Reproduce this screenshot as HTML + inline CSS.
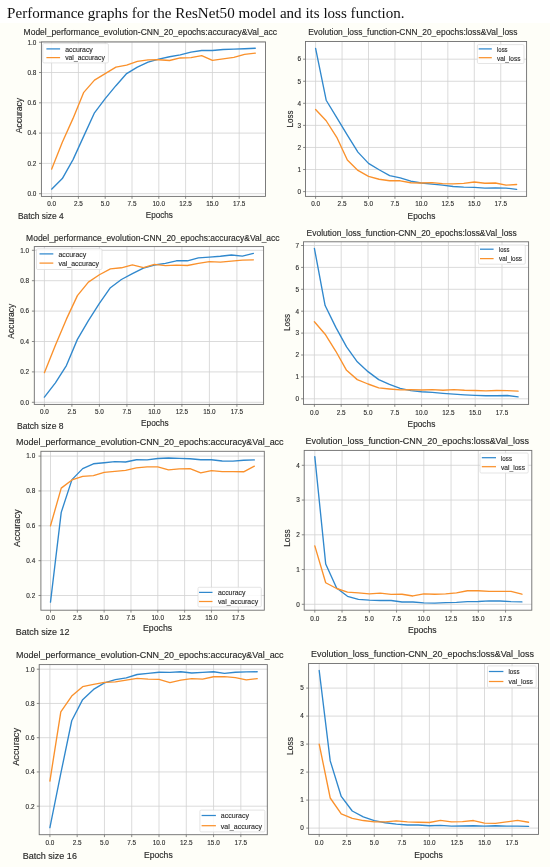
<!DOCTYPE html>
<html><head><meta charset="utf-8"><title>ResNet50 performance graphs</title>
<style>html,body{margin:0;padding:0;background:#fff;width:550px;height:867px;overflow:hidden}svg{display:block;filter:blur(0.3px)}</style>
</head><body>
<svg width="550" height="867" viewBox="0 0 550 867" font-family='"Liberation Sans", sans-serif'>
<style>.t{stroke:#2a2a2a;stroke-width:0.12px}.t2{stroke:#2a2a2a;stroke-width:0.15px}</style>
<rect x="0" y="0" width="550" height="867" fill="#ffffff"/>
<rect x="0" y="23" width="550" height="844" fill="#fefef8"/>
<text x="7.1" y="17.8" font-family='"Liberation Serif", serif' font-size="14.6" fill="#111" textLength="397.5" lengthAdjust="spacingAndGlyphs">Performance graphs for the ResNet50 model and its loss function.</text>
<rect x="41.4" y="41.9" width="224.1" height="154.5" fill="#ffffff"/>
<line x1="51.6" y1="41.9" x2="51.6" y2="196.4" stroke="#d2d2d2" stroke-width="0.8"/>
<line x1="78.4" y1="41.9" x2="78.4" y2="196.4" stroke="#d2d2d2" stroke-width="0.8"/>
<line x1="105.2" y1="41.9" x2="105.2" y2="196.4" stroke="#d2d2d2" stroke-width="0.8"/>
<line x1="132" y1="41.9" x2="132" y2="196.4" stroke="#d2d2d2" stroke-width="0.8"/>
<line x1="158.8" y1="41.9" x2="158.8" y2="196.4" stroke="#d2d2d2" stroke-width="0.8"/>
<line x1="185.6" y1="41.9" x2="185.6" y2="196.4" stroke="#d2d2d2" stroke-width="0.8"/>
<line x1="212.4" y1="41.9" x2="212.4" y2="196.4" stroke="#d2d2d2" stroke-width="0.8"/>
<line x1="239.2" y1="41.9" x2="239.2" y2="196.4" stroke="#d2d2d2" stroke-width="0.8"/>
<line x1="41.4" y1="193.7" x2="265.5" y2="193.7" stroke="#d2d2d2" stroke-width="0.8"/>
<line x1="41.4" y1="163.4" x2="265.5" y2="163.4" stroke="#d2d2d2" stroke-width="0.8"/>
<line x1="41.4" y1="133.1" x2="265.5" y2="133.1" stroke="#d2d2d2" stroke-width="0.8"/>
<line x1="41.4" y1="102.8" x2="265.5" y2="102.8" stroke="#d2d2d2" stroke-width="0.8"/>
<line x1="41.4" y1="72.5" x2="265.5" y2="72.5" stroke="#d2d2d2" stroke-width="0.8"/>
<line x1="41.4" y1="42.2" x2="265.5" y2="42.2" stroke="#d2d2d2" stroke-width="0.8"/>
<polyline points="51.6,189.15 62.32,178.55 73.04,159.61 83.76,136.13 94.48,112.8 105.2,98.56 115.92,85.68 126.64,73.56 137.36,67.2 148.08,62.2 158.8,59.17 169.52,56.74 180.24,54.93 190.96,52.2 201.68,50.53 212.4,50.53 223.12,49.47 233.84,49.17 244.56,48.71 255.28,48.26" fill="none" stroke="#3088cd" stroke-width="1.35" stroke-linejoin="round" stroke-linecap="round"/>
<polyline points="51.6,169.16 62.32,142.34 73.04,118.4 83.76,92.35 94.48,80.08 105.2,73.56 115.92,67.2 126.64,65.08 137.36,61.44 148.08,59.93 158.8,59.77 169.52,60.53 180.24,57.96 190.96,57.65 201.68,55.68 212.4,60.38 223.12,58.87 233.84,57.35 244.56,54.32 255.28,53.11" fill="none" stroke="#fa912c" stroke-width="1.35" stroke-linejoin="round" stroke-linecap="round"/>
<rect x="41.4" y="41.9" width="224.1" height="154.5" fill="none" stroke="#6e6e6e" stroke-width="0.9"/>
<line x1="51.6" y1="196.4" x2="51.6" y2="198.8" stroke="#6e6e6e" stroke-width="0.8"/>
<text x="51.6" y="205.7" class="t" font-size="6.4" fill="#2a2a2a" text-anchor="middle">0.0</text>
<line x1="78.4" y1="196.4" x2="78.4" y2="198.8" stroke="#6e6e6e" stroke-width="0.8"/>
<text x="78.4" y="205.7" class="t" font-size="6.4" fill="#2a2a2a" text-anchor="middle">2.5</text>
<line x1="105.2" y1="196.4" x2="105.2" y2="198.8" stroke="#6e6e6e" stroke-width="0.8"/>
<text x="105.2" y="205.7" class="t" font-size="6.4" fill="#2a2a2a" text-anchor="middle">5.0</text>
<line x1="132" y1="196.4" x2="132" y2="198.8" stroke="#6e6e6e" stroke-width="0.8"/>
<text x="132" y="205.7" class="t" font-size="6.4" fill="#2a2a2a" text-anchor="middle">7.5</text>
<line x1="158.8" y1="196.4" x2="158.8" y2="198.8" stroke="#6e6e6e" stroke-width="0.8"/>
<text x="158.8" y="205.7" class="t" font-size="6.4" fill="#2a2a2a" text-anchor="middle">10.0</text>
<line x1="185.6" y1="196.4" x2="185.6" y2="198.8" stroke="#6e6e6e" stroke-width="0.8"/>
<text x="185.6" y="205.7" class="t" font-size="6.4" fill="#2a2a2a" text-anchor="middle">12.5</text>
<line x1="212.4" y1="196.4" x2="212.4" y2="198.8" stroke="#6e6e6e" stroke-width="0.8"/>
<text x="212.4" y="205.7" class="t" font-size="6.4" fill="#2a2a2a" text-anchor="middle">15.0</text>
<line x1="239.2" y1="196.4" x2="239.2" y2="198.8" stroke="#6e6e6e" stroke-width="0.8"/>
<text x="239.2" y="205.7" class="t" font-size="6.4" fill="#2a2a2a" text-anchor="middle">17.5</text>
<line x1="39" y1="193.7" x2="41.4" y2="193.7" stroke="#6e6e6e" stroke-width="0.8"/>
<text x="36.3" y="196" class="t" font-size="6.4" fill="#2a2a2a" text-anchor="end">0.0</text>
<line x1="39" y1="163.4" x2="41.4" y2="163.4" stroke="#6e6e6e" stroke-width="0.8"/>
<text x="36.3" y="165.7" class="t" font-size="6.4" fill="#2a2a2a" text-anchor="end">0.2</text>
<line x1="39" y1="133.1" x2="41.4" y2="133.1" stroke="#6e6e6e" stroke-width="0.8"/>
<text x="36.3" y="135.4" class="t" font-size="6.4" fill="#2a2a2a" text-anchor="end">0.4</text>
<line x1="39" y1="102.8" x2="41.4" y2="102.8" stroke="#6e6e6e" stroke-width="0.8"/>
<text x="36.3" y="105.1" class="t" font-size="6.4" fill="#2a2a2a" text-anchor="end">0.6</text>
<line x1="39" y1="72.5" x2="41.4" y2="72.5" stroke="#6e6e6e" stroke-width="0.8"/>
<text x="36.3" y="74.8" class="t" font-size="6.4" fill="#2a2a2a" text-anchor="end">0.8</text>
<line x1="39" y1="42.2" x2="41.4" y2="42.2" stroke="#6e6e6e" stroke-width="0.8"/>
<text x="36.3" y="44.5" class="t" font-size="6.4" fill="#2a2a2a" text-anchor="end">1.0</text>
<rect x="42.8" y="43.6" width="65.6" height="19.3" rx="1.2" fill="#ffffff" fill-opacity="0.85" stroke="#dadada" stroke-width="0.7"/>
<line x1="46.4" y1="48.9" x2="60.1" y2="48.9" stroke="#3088cd" stroke-width="1.25"/>
<text x="65.2" y="51.7" class="t" font-size="6.8" fill="#2a2a2a" textLength="27.6" lengthAdjust="spacingAndGlyphs">accuracy</text>
<line x1="46.4" y1="57.6" x2="60.1" y2="57.6" stroke="#fa912c" stroke-width="1.25"/>
<text x="65.2" y="60.4" class="t" font-size="6.8" fill="#2a2a2a" textLength="39.7" lengthAdjust="spacingAndGlyphs">val_accuracy</text>
<text x="23.6" y="34.9" class="t2" font-size="9.3" fill="#2a2a2a" textLength="253.3" lengthAdjust="spacingAndGlyphs">Model_performance_evolution-CNN_20_epochs:accuracy&amp;Val_acc</text>
<text x="145.8" y="217.7" class="t2" font-size="8.6" fill="#2a2a2a" textLength="27.1" lengthAdjust="spacingAndGlyphs">Epochs</text>
<text transform="translate(21.7,115.5) rotate(-90)" x="0" y="0" class="t2" font-size="8.6" fill="#2a2a2a" text-anchor="middle" textLength="35.3" lengthAdjust="spacingAndGlyphs">Accuracy</text>
<rect x="305.5" y="41.5" width="221.1" height="154.9" fill="#ffffff"/>
<line x1="315.6" y1="41.5" x2="315.6" y2="196.4" stroke="#d2d2d2" stroke-width="0.8"/>
<line x1="342.05" y1="41.5" x2="342.05" y2="196.4" stroke="#d2d2d2" stroke-width="0.8"/>
<line x1="368.5" y1="41.5" x2="368.5" y2="196.4" stroke="#d2d2d2" stroke-width="0.8"/>
<line x1="394.95" y1="41.5" x2="394.95" y2="196.4" stroke="#d2d2d2" stroke-width="0.8"/>
<line x1="421.4" y1="41.5" x2="421.4" y2="196.4" stroke="#d2d2d2" stroke-width="0.8"/>
<line x1="447.85" y1="41.5" x2="447.85" y2="196.4" stroke="#d2d2d2" stroke-width="0.8"/>
<line x1="474.3" y1="41.5" x2="474.3" y2="196.4" stroke="#d2d2d2" stroke-width="0.8"/>
<line x1="500.75" y1="41.5" x2="500.75" y2="196.4" stroke="#d2d2d2" stroke-width="0.8"/>
<line x1="305.5" y1="191.6" x2="526.6" y2="191.6" stroke="#d2d2d2" stroke-width="0.8"/>
<line x1="305.5" y1="169.53" x2="526.6" y2="169.53" stroke="#d2d2d2" stroke-width="0.8"/>
<line x1="305.5" y1="147.46" x2="526.6" y2="147.46" stroke="#d2d2d2" stroke-width="0.8"/>
<line x1="305.5" y1="125.39" x2="526.6" y2="125.39" stroke="#d2d2d2" stroke-width="0.8"/>
<line x1="305.5" y1="103.32" x2="526.6" y2="103.32" stroke="#d2d2d2" stroke-width="0.8"/>
<line x1="305.5" y1="81.25" x2="526.6" y2="81.25" stroke="#d2d2d2" stroke-width="0.8"/>
<line x1="305.5" y1="59.18" x2="526.6" y2="59.18" stroke="#d2d2d2" stroke-width="0.8"/>
<polyline points="315.6,48.37 326.18,100.23 336.76,117.67 347.34,135.1 357.92,152.09 368.5,163.35 379.08,169.75 389.66,175.71 400.24,177.92 410.82,181.23 421.4,182.99 431.98,184.1 442.56,185.2 453.14,186.52 463.72,187.19 474.3,187.41 484.88,188.07 495.46,187.85 506.04,188.07 516.62,189.39" fill="none" stroke="#3088cd" stroke-width="1.35" stroke-linejoin="round" stroke-linecap="round"/>
<polyline points="315.6,109.5 326.18,120.76 336.76,137.31 347.34,160.04 357.92,170.41 368.5,176.37 379.08,179.24 389.66,180.79 400.24,180.79 410.82,182.77 421.4,182.99 431.98,182.55 442.56,183.65 453.14,183.88 463.72,183.43 474.3,182 484.88,183.21 495.46,182.99 506.04,185.2 516.62,184.54" fill="none" stroke="#fa912c" stroke-width="1.35" stroke-linejoin="round" stroke-linecap="round"/>
<rect x="305.5" y="41.5" width="221.1" height="154.9" fill="none" stroke="#6e6e6e" stroke-width="0.9"/>
<line x1="315.6" y1="196.4" x2="315.6" y2="198.8" stroke="#6e6e6e" stroke-width="0.8"/>
<text x="315.6" y="206.1" class="t" font-size="6.4" fill="#2a2a2a" text-anchor="middle">0.0</text>
<line x1="342.05" y1="196.4" x2="342.05" y2="198.8" stroke="#6e6e6e" stroke-width="0.8"/>
<text x="342.05" y="206.1" class="t" font-size="6.4" fill="#2a2a2a" text-anchor="middle">2.5</text>
<line x1="368.5" y1="196.4" x2="368.5" y2="198.8" stroke="#6e6e6e" stroke-width="0.8"/>
<text x="368.5" y="206.1" class="t" font-size="6.4" fill="#2a2a2a" text-anchor="middle">5.0</text>
<line x1="394.95" y1="196.4" x2="394.95" y2="198.8" stroke="#6e6e6e" stroke-width="0.8"/>
<text x="394.95" y="206.1" class="t" font-size="6.4" fill="#2a2a2a" text-anchor="middle">7.5</text>
<line x1="421.4" y1="196.4" x2="421.4" y2="198.8" stroke="#6e6e6e" stroke-width="0.8"/>
<text x="421.4" y="206.1" class="t" font-size="6.4" fill="#2a2a2a" text-anchor="middle">10.0</text>
<line x1="447.85" y1="196.4" x2="447.85" y2="198.8" stroke="#6e6e6e" stroke-width="0.8"/>
<text x="447.85" y="206.1" class="t" font-size="6.4" fill="#2a2a2a" text-anchor="middle">12.5</text>
<line x1="474.3" y1="196.4" x2="474.3" y2="198.8" stroke="#6e6e6e" stroke-width="0.8"/>
<text x="474.3" y="206.1" class="t" font-size="6.4" fill="#2a2a2a" text-anchor="middle">15.0</text>
<line x1="500.75" y1="196.4" x2="500.75" y2="198.8" stroke="#6e6e6e" stroke-width="0.8"/>
<text x="500.75" y="206.1" class="t" font-size="6.4" fill="#2a2a2a" text-anchor="middle">17.5</text>
<line x1="303.1" y1="191.6" x2="305.5" y2="191.6" stroke="#6e6e6e" stroke-width="0.8"/>
<text x="301.1" y="193.9" class="t" font-size="6.4" fill="#2a2a2a" text-anchor="end">0</text>
<line x1="303.1" y1="169.53" x2="305.5" y2="169.53" stroke="#6e6e6e" stroke-width="0.8"/>
<text x="301.1" y="171.83" class="t" font-size="6.4" fill="#2a2a2a" text-anchor="end">1</text>
<line x1="303.1" y1="147.46" x2="305.5" y2="147.46" stroke="#6e6e6e" stroke-width="0.8"/>
<text x="301.1" y="149.76" class="t" font-size="6.4" fill="#2a2a2a" text-anchor="end">2</text>
<line x1="303.1" y1="125.39" x2="305.5" y2="125.39" stroke="#6e6e6e" stroke-width="0.8"/>
<text x="301.1" y="127.69" class="t" font-size="6.4" fill="#2a2a2a" text-anchor="end">3</text>
<line x1="303.1" y1="103.32" x2="305.5" y2="103.32" stroke="#6e6e6e" stroke-width="0.8"/>
<text x="301.1" y="105.62" class="t" font-size="6.4" fill="#2a2a2a" text-anchor="end">4</text>
<line x1="303.1" y1="81.25" x2="305.5" y2="81.25" stroke="#6e6e6e" stroke-width="0.8"/>
<text x="301.1" y="83.55" class="t" font-size="6.4" fill="#2a2a2a" text-anchor="end">5</text>
<line x1="303.1" y1="59.18" x2="305.5" y2="59.18" stroke="#6e6e6e" stroke-width="0.8"/>
<text x="301.1" y="61.48" class="t" font-size="6.4" fill="#2a2a2a" text-anchor="end">6</text>
<rect x="477.4" y="44.6" width="46.6" height="18.9" rx="1.2" fill="#ffffff" fill-opacity="0.85" stroke="#dadada" stroke-width="0.7"/>
<line x1="478.7" y1="48.9" x2="491.8" y2="48.9" stroke="#3088cd" stroke-width="1.25"/>
<text x="497" y="51.7" class="t" font-size="6.8" fill="#2a2a2a" textLength="10.6" lengthAdjust="spacingAndGlyphs">loss</text>
<line x1="478.7" y1="57.7" x2="491.8" y2="57.7" stroke="#fa912c" stroke-width="1.25"/>
<text x="497" y="60.5" class="t" font-size="6.8" fill="#2a2a2a" textLength="23.4" lengthAdjust="spacingAndGlyphs">val_loss</text>
<text x="308.2" y="35.3" class="t2" font-size="9.3" fill="#2a2a2a" textLength="209.3" lengthAdjust="spacingAndGlyphs">Evolution_loss_function-CNN_20_epochs:loss&amp;Val_loss</text>
<text x="407.6" y="218.7" class="t2" font-size="8.6" fill="#2a2a2a" textLength="27.7" lengthAdjust="spacingAndGlyphs">Epochs</text>
<text transform="translate(292.5,119) rotate(-90)" x="0" y="0" class="t2" font-size="8.6" fill="#2a2a2a" text-anchor="middle" textLength="16.9" lengthAdjust="spacingAndGlyphs">Loss</text>
<rect x="34.3" y="246.6" width="229.3" height="157.8" fill="#ffffff"/>
<line x1="44.4" y1="246.6" x2="44.4" y2="404.4" stroke="#d2d2d2" stroke-width="0.8"/>
<line x1="71.9" y1="246.6" x2="71.9" y2="404.4" stroke="#d2d2d2" stroke-width="0.8"/>
<line x1="99.4" y1="246.6" x2="99.4" y2="404.4" stroke="#d2d2d2" stroke-width="0.8"/>
<line x1="126.9" y1="246.6" x2="126.9" y2="404.4" stroke="#d2d2d2" stroke-width="0.8"/>
<line x1="154.4" y1="246.6" x2="154.4" y2="404.4" stroke="#d2d2d2" stroke-width="0.8"/>
<line x1="181.9" y1="246.6" x2="181.9" y2="404.4" stroke="#d2d2d2" stroke-width="0.8"/>
<line x1="209.4" y1="246.6" x2="209.4" y2="404.4" stroke="#d2d2d2" stroke-width="0.8"/>
<line x1="236.9" y1="246.6" x2="236.9" y2="404.4" stroke="#d2d2d2" stroke-width="0.8"/>
<line x1="34.3" y1="402.3" x2="263.6" y2="402.3" stroke="#d2d2d2" stroke-width="0.8"/>
<line x1="34.3" y1="371.9" x2="263.6" y2="371.9" stroke="#d2d2d2" stroke-width="0.8"/>
<line x1="34.3" y1="341.5" x2="263.6" y2="341.5" stroke="#d2d2d2" stroke-width="0.8"/>
<line x1="34.3" y1="311.1" x2="263.6" y2="311.1" stroke="#d2d2d2" stroke-width="0.8"/>
<line x1="34.3" y1="280.7" x2="263.6" y2="280.7" stroke="#d2d2d2" stroke-width="0.8"/>
<line x1="34.3" y1="250.3" x2="263.6" y2="250.3" stroke="#d2d2d2" stroke-width="0.8"/>
<polyline points="44.4,397.13 55.4,382.84 66.4,365.52 77.4,339.37 88.4,320.68 99.4,303.35 110.4,287.69 121.4,279.48 132.4,273.71 143.4,268.08 154.4,265.04 165.4,263.37 176.4,260.79 187.4,260.79 198.4,257.9 209.4,257.14 220.4,256.23 231.4,255.01 242.4,256.08 253.4,253.34" fill="none" stroke="#3088cd" stroke-width="1.35" stroke-linejoin="round" stroke-linecap="round"/>
<polyline points="44.4,372.66 55.4,345.15 66.4,319.16 77.4,295.6 88.4,282.07 99.4,274.77 110.4,268.84 121.4,267.78 132.4,264.89 143.4,267.63 154.4,264.44 165.4,265.65 176.4,265.2 187.4,265.5 198.4,263.37 209.4,261.55 220.4,262.16 231.4,261.09 242.4,260.18 253.4,259.88" fill="none" stroke="#fa912c" stroke-width="1.35" stroke-linejoin="round" stroke-linecap="round"/>
<rect x="34.3" y="246.6" width="229.3" height="157.8" fill="none" stroke="#6e6e6e" stroke-width="0.9"/>
<line x1="44.4" y1="404.4" x2="44.4" y2="406.8" stroke="#6e6e6e" stroke-width="0.8"/>
<text x="44.4" y="413.9" class="t" font-size="6.4" fill="#2a2a2a" text-anchor="middle">0.0</text>
<line x1="71.9" y1="404.4" x2="71.9" y2="406.8" stroke="#6e6e6e" stroke-width="0.8"/>
<text x="71.9" y="413.9" class="t" font-size="6.4" fill="#2a2a2a" text-anchor="middle">2.5</text>
<line x1="99.4" y1="404.4" x2="99.4" y2="406.8" stroke="#6e6e6e" stroke-width="0.8"/>
<text x="99.4" y="413.9" class="t" font-size="6.4" fill="#2a2a2a" text-anchor="middle">5.0</text>
<line x1="126.9" y1="404.4" x2="126.9" y2="406.8" stroke="#6e6e6e" stroke-width="0.8"/>
<text x="126.9" y="413.9" class="t" font-size="6.4" fill="#2a2a2a" text-anchor="middle">7.5</text>
<line x1="154.4" y1="404.4" x2="154.4" y2="406.8" stroke="#6e6e6e" stroke-width="0.8"/>
<text x="154.4" y="413.9" class="t" font-size="6.4" fill="#2a2a2a" text-anchor="middle">10.0</text>
<line x1="181.9" y1="404.4" x2="181.9" y2="406.8" stroke="#6e6e6e" stroke-width="0.8"/>
<text x="181.9" y="413.9" class="t" font-size="6.4" fill="#2a2a2a" text-anchor="middle">12.5</text>
<line x1="209.4" y1="404.4" x2="209.4" y2="406.8" stroke="#6e6e6e" stroke-width="0.8"/>
<text x="209.4" y="413.9" class="t" font-size="6.4" fill="#2a2a2a" text-anchor="middle">15.0</text>
<line x1="236.9" y1="404.4" x2="236.9" y2="406.8" stroke="#6e6e6e" stroke-width="0.8"/>
<text x="236.9" y="413.9" class="t" font-size="6.4" fill="#2a2a2a" text-anchor="middle">17.5</text>
<line x1="31.9" y1="402.3" x2="34.3" y2="402.3" stroke="#6e6e6e" stroke-width="0.8"/>
<text x="29.1" y="404.6" class="t" font-size="6.4" fill="#2a2a2a" text-anchor="end">0.0</text>
<line x1="31.9" y1="371.9" x2="34.3" y2="371.9" stroke="#6e6e6e" stroke-width="0.8"/>
<text x="29.1" y="374.2" class="t" font-size="6.4" fill="#2a2a2a" text-anchor="end">0.2</text>
<line x1="31.9" y1="341.5" x2="34.3" y2="341.5" stroke="#6e6e6e" stroke-width="0.8"/>
<text x="29.1" y="343.8" class="t" font-size="6.4" fill="#2a2a2a" text-anchor="end">0.4</text>
<line x1="31.9" y1="311.1" x2="34.3" y2="311.1" stroke="#6e6e6e" stroke-width="0.8"/>
<text x="29.1" y="313.4" class="t" font-size="6.4" fill="#2a2a2a" text-anchor="end">0.6</text>
<line x1="31.9" y1="280.7" x2="34.3" y2="280.7" stroke="#6e6e6e" stroke-width="0.8"/>
<text x="29.1" y="283" class="t" font-size="6.4" fill="#2a2a2a" text-anchor="end">0.8</text>
<line x1="31.9" y1="250.3" x2="34.3" y2="250.3" stroke="#6e6e6e" stroke-width="0.8"/>
<text x="29.1" y="252.6" class="t" font-size="6.4" fill="#2a2a2a" text-anchor="end">1.0</text>
<rect x="36.5" y="248.8" width="65.5" height="20.7" rx="1.2" fill="#ffffff" fill-opacity="0.85" stroke="#dadada" stroke-width="0.7"/>
<line x1="39.5" y1="253.9" x2="53.3" y2="253.9" stroke="#3088cd" stroke-width="1.25"/>
<text x="58.4" y="256.7" class="t" font-size="6.8" fill="#2a2a2a" textLength="27.9" lengthAdjust="spacingAndGlyphs">accuracy</text>
<line x1="39.5" y1="263.1" x2="53.3" y2="263.1" stroke="#fa912c" stroke-width="1.25"/>
<text x="58.4" y="265.9" class="t" font-size="6.8" fill="#2a2a2a" textLength="40.7" lengthAdjust="spacingAndGlyphs">val_accuracy</text>
<text x="26.1" y="240.6" class="t2" font-size="9.3" fill="#2a2a2a" textLength="253.5" lengthAdjust="spacingAndGlyphs">Model_performance_evolution-CNN_20_epochs:accuracy&amp;Val_acc</text>
<text x="141.1" y="426.1" class="t2" font-size="8.6" fill="#2a2a2a" textLength="27.6" lengthAdjust="spacingAndGlyphs">Epochs</text>
<text transform="translate(13.8,321.3) rotate(-90)" x="0" y="0" class="t2" font-size="8.6" fill="#2a2a2a" text-anchor="middle" textLength="34.9" lengthAdjust="spacingAndGlyphs">Accuracy</text>
<rect x="303.5" y="241.8" width="225.1" height="162.6" fill="#ffffff"/>
<line x1="314.4" y1="241.8" x2="314.4" y2="404.4" stroke="#d2d2d2" stroke-width="0.8"/>
<line x1="341.2" y1="241.8" x2="341.2" y2="404.4" stroke="#d2d2d2" stroke-width="0.8"/>
<line x1="368" y1="241.8" x2="368" y2="404.4" stroke="#d2d2d2" stroke-width="0.8"/>
<line x1="394.8" y1="241.8" x2="394.8" y2="404.4" stroke="#d2d2d2" stroke-width="0.8"/>
<line x1="421.6" y1="241.8" x2="421.6" y2="404.4" stroke="#d2d2d2" stroke-width="0.8"/>
<line x1="448.4" y1="241.8" x2="448.4" y2="404.4" stroke="#d2d2d2" stroke-width="0.8"/>
<line x1="475.2" y1="241.8" x2="475.2" y2="404.4" stroke="#d2d2d2" stroke-width="0.8"/>
<line x1="502" y1="241.8" x2="502" y2="404.4" stroke="#d2d2d2" stroke-width="0.8"/>
<line x1="303.5" y1="398.8" x2="528.6" y2="398.8" stroke="#d2d2d2" stroke-width="0.8"/>
<line x1="303.5" y1="376.9" x2="528.6" y2="376.9" stroke="#d2d2d2" stroke-width="0.8"/>
<line x1="303.5" y1="355" x2="528.6" y2="355" stroke="#d2d2d2" stroke-width="0.8"/>
<line x1="303.5" y1="333.1" x2="528.6" y2="333.1" stroke="#d2d2d2" stroke-width="0.8"/>
<line x1="303.5" y1="311.2" x2="528.6" y2="311.2" stroke="#d2d2d2" stroke-width="0.8"/>
<line x1="303.5" y1="289.3" x2="528.6" y2="289.3" stroke="#d2d2d2" stroke-width="0.8"/>
<line x1="303.5" y1="267.4" x2="528.6" y2="267.4" stroke="#d2d2d2" stroke-width="0.8"/>
<line x1="303.5" y1="245.5" x2="528.6" y2="245.5" stroke="#d2d2d2" stroke-width="0.8"/>
<polyline points="314.4,248.35 325.12,305.51 335.84,327.41 346.56,346.9 357.28,361.79 368,371.64 378.72,379.62 389.44,384.41 400.16,388.4 410.88,390.7 421.6,391.79 432.32,392.45 443.04,393.32 453.76,394.2 464.48,394.86 475.2,395.3 485.92,395.73 496.64,395.73 507.36,395.51 518.08,396.83" fill="none" stroke="#3088cd" stroke-width="1.35" stroke-linejoin="round" stroke-linecap="round"/>
<polyline points="314.4,321.71 325.12,334.2 335.84,351.28 346.56,370.33 357.28,379.62 368,384 378.72,387.92 389.44,389.01 400.16,389.91 410.88,389.6 421.6,390.04 432.32,389.6 443.04,390.26 453.76,389.6 464.48,390.26 475.2,390.48 485.92,390.92 496.64,390.48 507.36,390.7 518.08,391.13" fill="none" stroke="#fa912c" stroke-width="1.35" stroke-linejoin="round" stroke-linecap="round"/>
<rect x="303.5" y="241.8" width="225.1" height="162.6" fill="none" stroke="#6e6e6e" stroke-width="0.9"/>
<line x1="314.4" y1="404.4" x2="314.4" y2="406.8" stroke="#6e6e6e" stroke-width="0.8"/>
<text x="314.4" y="414.8" class="t" font-size="6.4" fill="#2a2a2a" text-anchor="middle">0.0</text>
<line x1="341.2" y1="404.4" x2="341.2" y2="406.8" stroke="#6e6e6e" stroke-width="0.8"/>
<text x="341.2" y="414.8" class="t" font-size="6.4" fill="#2a2a2a" text-anchor="middle">2.5</text>
<line x1="368" y1="404.4" x2="368" y2="406.8" stroke="#6e6e6e" stroke-width="0.8"/>
<text x="368" y="414.8" class="t" font-size="6.4" fill="#2a2a2a" text-anchor="middle">5.0</text>
<line x1="394.8" y1="404.4" x2="394.8" y2="406.8" stroke="#6e6e6e" stroke-width="0.8"/>
<text x="394.8" y="414.8" class="t" font-size="6.4" fill="#2a2a2a" text-anchor="middle">7.5</text>
<line x1="421.6" y1="404.4" x2="421.6" y2="406.8" stroke="#6e6e6e" stroke-width="0.8"/>
<text x="421.6" y="414.8" class="t" font-size="6.4" fill="#2a2a2a" text-anchor="middle">10.0</text>
<line x1="448.4" y1="404.4" x2="448.4" y2="406.8" stroke="#6e6e6e" stroke-width="0.8"/>
<text x="448.4" y="414.8" class="t" font-size="6.4" fill="#2a2a2a" text-anchor="middle">12.5</text>
<line x1="475.2" y1="404.4" x2="475.2" y2="406.8" stroke="#6e6e6e" stroke-width="0.8"/>
<text x="475.2" y="414.8" class="t" font-size="6.4" fill="#2a2a2a" text-anchor="middle">15.0</text>
<line x1="502" y1="404.4" x2="502" y2="406.8" stroke="#6e6e6e" stroke-width="0.8"/>
<text x="502" y="414.8" class="t" font-size="6.4" fill="#2a2a2a" text-anchor="middle">17.5</text>
<line x1="301.1" y1="398.8" x2="303.5" y2="398.8" stroke="#6e6e6e" stroke-width="0.8"/>
<text x="299" y="401.1" class="t" font-size="6.4" fill="#2a2a2a" text-anchor="end">0</text>
<line x1="301.1" y1="376.9" x2="303.5" y2="376.9" stroke="#6e6e6e" stroke-width="0.8"/>
<text x="299" y="379.2" class="t" font-size="6.4" fill="#2a2a2a" text-anchor="end">1</text>
<line x1="301.1" y1="355" x2="303.5" y2="355" stroke="#6e6e6e" stroke-width="0.8"/>
<text x="299" y="357.3" class="t" font-size="6.4" fill="#2a2a2a" text-anchor="end">2</text>
<line x1="301.1" y1="333.1" x2="303.5" y2="333.1" stroke="#6e6e6e" stroke-width="0.8"/>
<text x="299" y="335.4" class="t" font-size="6.4" fill="#2a2a2a" text-anchor="end">3</text>
<line x1="301.1" y1="311.2" x2="303.5" y2="311.2" stroke="#6e6e6e" stroke-width="0.8"/>
<text x="299" y="313.5" class="t" font-size="6.4" fill="#2a2a2a" text-anchor="end">4</text>
<line x1="301.1" y1="289.3" x2="303.5" y2="289.3" stroke="#6e6e6e" stroke-width="0.8"/>
<text x="299" y="291.6" class="t" font-size="6.4" fill="#2a2a2a" text-anchor="end">5</text>
<line x1="301.1" y1="267.4" x2="303.5" y2="267.4" stroke="#6e6e6e" stroke-width="0.8"/>
<text x="299" y="269.7" class="t" font-size="6.4" fill="#2a2a2a" text-anchor="end">6</text>
<line x1="301.1" y1="245.5" x2="303.5" y2="245.5" stroke="#6e6e6e" stroke-width="0.8"/>
<text x="299" y="247.8" class="t" font-size="6.4" fill="#2a2a2a" text-anchor="end">7</text>
<rect x="478.5" y="245" width="46.8" height="19.2" rx="1.2" fill="#ffffff" fill-opacity="0.85" stroke="#dadada" stroke-width="0.7"/>
<line x1="480" y1="249.2" x2="493.6" y2="249.2" stroke="#3088cd" stroke-width="1.25"/>
<text x="499" y="252" class="t" font-size="6.8" fill="#2a2a2a" textLength="10.5" lengthAdjust="spacingAndGlyphs">loss</text>
<line x1="480" y1="258.6" x2="493.6" y2="258.6" stroke="#fa912c" stroke-width="1.25"/>
<text x="499" y="261.4" class="t" font-size="6.8" fill="#2a2a2a" textLength="23" lengthAdjust="spacingAndGlyphs">val_loss</text>
<text x="306.6" y="235.6" class="t2" font-size="9.3" fill="#2a2a2a" textLength="210.2" lengthAdjust="spacingAndGlyphs">Evolution_loss_function-CNN_20_epochs:loss&amp;Val_loss</text>
<text x="407.6" y="426.9" class="t2" font-size="8.6" fill="#2a2a2a" textLength="27.7" lengthAdjust="spacingAndGlyphs">Epochs</text>
<text transform="translate(289.7,322.5) rotate(-90)" x="0" y="0" class="t2" font-size="8.6" fill="#2a2a2a" text-anchor="middle" textLength="17.2" lengthAdjust="spacingAndGlyphs">Loss</text>
<rect x="40.9" y="451.3" width="223.4" height="158.9" fill="#ffffff"/>
<line x1="50.5" y1="451.3" x2="50.5" y2="610.2" stroke="#d2d2d2" stroke-width="0.8"/>
<line x1="77.33" y1="451.3" x2="77.33" y2="610.2" stroke="#d2d2d2" stroke-width="0.8"/>
<line x1="104.15" y1="451.3" x2="104.15" y2="610.2" stroke="#d2d2d2" stroke-width="0.8"/>
<line x1="130.98" y1="451.3" x2="130.98" y2="610.2" stroke="#d2d2d2" stroke-width="0.8"/>
<line x1="157.8" y1="451.3" x2="157.8" y2="610.2" stroke="#d2d2d2" stroke-width="0.8"/>
<line x1="184.62" y1="451.3" x2="184.62" y2="610.2" stroke="#d2d2d2" stroke-width="0.8"/>
<line x1="211.45" y1="451.3" x2="211.45" y2="610.2" stroke="#d2d2d2" stroke-width="0.8"/>
<line x1="238.28" y1="451.3" x2="238.28" y2="610.2" stroke="#d2d2d2" stroke-width="0.8"/>
<line x1="40.9" y1="595.5" x2="264.3" y2="595.5" stroke="#d2d2d2" stroke-width="0.8"/>
<line x1="40.9" y1="560.65" x2="264.3" y2="560.65" stroke="#d2d2d2" stroke-width="0.8"/>
<line x1="40.9" y1="525.8" x2="264.3" y2="525.8" stroke="#d2d2d2" stroke-width="0.8"/>
<line x1="40.9" y1="490.95" x2="264.3" y2="490.95" stroke="#d2d2d2" stroke-width="0.8"/>
<line x1="40.9" y1="456.1" x2="264.3" y2="456.1" stroke="#d2d2d2" stroke-width="0.8"/>
<polyline points="50.5,602.12 61.23,512.38 71.96,479.62 82.69,468.65 93.42,463.77 104.15,462.72 114.88,461.68 125.61,462.02 136.34,459.76 147.07,459.93 157.8,458.54 168.53,458.02 179.26,458.37 189.99,458.71 200.72,459.76 211.45,459.76 222.18,460.98 232.91,461.15 243.64,460.28 254.37,459.93" fill="none" stroke="#3088cd" stroke-width="1.35" stroke-linejoin="round" stroke-linecap="round"/>
<polyline points="50.5,525.8 61.23,488.16 71.96,479.97 82.69,476.31 93.42,475.62 104.15,472.31 114.88,471.43 125.61,470.39 136.34,467.95 147.07,466.9 157.8,466.9 168.53,469.87 179.26,468.82 189.99,468.65 200.72,472.83 211.45,470.56 222.18,471.61 232.91,471.61 243.64,471.78 254.37,466.21" fill="none" stroke="#fa912c" stroke-width="1.35" stroke-linejoin="round" stroke-linecap="round"/>
<rect x="40.9" y="451.3" width="223.4" height="158.9" fill="none" stroke="#6e6e6e" stroke-width="0.9"/>
<line x1="50.5" y1="610.2" x2="50.5" y2="612.6" stroke="#6e6e6e" stroke-width="0.8"/>
<text x="50.5" y="619.5" class="t" font-size="6.4" fill="#2a2a2a" text-anchor="middle">0.0</text>
<line x1="77.33" y1="610.2" x2="77.33" y2="612.6" stroke="#6e6e6e" stroke-width="0.8"/>
<text x="77.33" y="619.5" class="t" font-size="6.4" fill="#2a2a2a" text-anchor="middle">2.5</text>
<line x1="104.15" y1="610.2" x2="104.15" y2="612.6" stroke="#6e6e6e" stroke-width="0.8"/>
<text x="104.15" y="619.5" class="t" font-size="6.4" fill="#2a2a2a" text-anchor="middle">5.0</text>
<line x1="130.98" y1="610.2" x2="130.98" y2="612.6" stroke="#6e6e6e" stroke-width="0.8"/>
<text x="130.98" y="619.5" class="t" font-size="6.4" fill="#2a2a2a" text-anchor="middle">7.5</text>
<line x1="157.8" y1="610.2" x2="157.8" y2="612.6" stroke="#6e6e6e" stroke-width="0.8"/>
<text x="157.8" y="619.5" class="t" font-size="6.4" fill="#2a2a2a" text-anchor="middle">10.0</text>
<line x1="184.62" y1="610.2" x2="184.62" y2="612.6" stroke="#6e6e6e" stroke-width="0.8"/>
<text x="184.62" y="619.5" class="t" font-size="6.4" fill="#2a2a2a" text-anchor="middle">12.5</text>
<line x1="211.45" y1="610.2" x2="211.45" y2="612.6" stroke="#6e6e6e" stroke-width="0.8"/>
<text x="211.45" y="619.5" class="t" font-size="6.4" fill="#2a2a2a" text-anchor="middle">15.0</text>
<line x1="238.28" y1="610.2" x2="238.28" y2="612.6" stroke="#6e6e6e" stroke-width="0.8"/>
<text x="238.28" y="619.5" class="t" font-size="6.4" fill="#2a2a2a" text-anchor="middle">17.5</text>
<line x1="38.5" y1="595.5" x2="40.9" y2="595.5" stroke="#6e6e6e" stroke-width="0.8"/>
<text x="35.2" y="597.8" class="t" font-size="6.4" fill="#2a2a2a" text-anchor="end">0.2</text>
<line x1="38.5" y1="560.65" x2="40.9" y2="560.65" stroke="#6e6e6e" stroke-width="0.8"/>
<text x="35.2" y="562.95" class="t" font-size="6.4" fill="#2a2a2a" text-anchor="end">0.4</text>
<line x1="38.5" y1="525.8" x2="40.9" y2="525.8" stroke="#6e6e6e" stroke-width="0.8"/>
<text x="35.2" y="528.1" class="t" font-size="6.4" fill="#2a2a2a" text-anchor="end">0.6</text>
<line x1="38.5" y1="490.95" x2="40.9" y2="490.95" stroke="#6e6e6e" stroke-width="0.8"/>
<text x="35.2" y="493.25" class="t" font-size="6.4" fill="#2a2a2a" text-anchor="end">0.8</text>
<line x1="38.5" y1="456.1" x2="40.9" y2="456.1" stroke="#6e6e6e" stroke-width="0.8"/>
<text x="35.2" y="458.4" class="t" font-size="6.4" fill="#2a2a2a" text-anchor="end">1.0</text>
<rect x="198" y="587.3" width="63.3" height="19.6" rx="1.2" fill="#ffffff" fill-opacity="0.85" stroke="#dadada" stroke-width="0.7"/>
<line x1="199" y1="592.4" x2="212.5" y2="592.4" stroke="#3088cd" stroke-width="1.25"/>
<text x="217.9" y="595.2" class="t" font-size="6.8" fill="#2a2a2a" textLength="27.6" lengthAdjust="spacingAndGlyphs">accuracy</text>
<line x1="199" y1="601.5" x2="212.5" y2="601.5" stroke="#fa912c" stroke-width="1.25"/>
<text x="217.9" y="604.3" class="t" font-size="6.8" fill="#2a2a2a" textLength="40.2" lengthAdjust="spacingAndGlyphs">val_accuracy</text>
<text x="16" y="444.5" class="t2" font-size="9.3" fill="#2a2a2a" textLength="267.6" lengthAdjust="spacingAndGlyphs">Model_performance_evolution-CNN_20_epochs:accuracy&amp;Val_acc</text>
<text x="143" y="631.3" class="t2" font-size="8.6" fill="#2a2a2a" textLength="29.1" lengthAdjust="spacingAndGlyphs">Epochs</text>
<text transform="translate(20.4,528.2) rotate(-90)" x="0" y="0" class="t2" font-size="8.6" fill="#2a2a2a" text-anchor="middle" textLength="37.4" lengthAdjust="spacingAndGlyphs">Accuracy</text>
<rect x="304.2" y="450.4" width="227.6" height="159.8" fill="#ffffff"/>
<line x1="314.8" y1="450.4" x2="314.8" y2="610.2" stroke="#d2d2d2" stroke-width="0.8"/>
<line x1="342.05" y1="450.4" x2="342.05" y2="610.2" stroke="#d2d2d2" stroke-width="0.8"/>
<line x1="369.3" y1="450.4" x2="369.3" y2="610.2" stroke="#d2d2d2" stroke-width="0.8"/>
<line x1="396.55" y1="450.4" x2="396.55" y2="610.2" stroke="#d2d2d2" stroke-width="0.8"/>
<line x1="423.8" y1="450.4" x2="423.8" y2="610.2" stroke="#d2d2d2" stroke-width="0.8"/>
<line x1="451.05" y1="450.4" x2="451.05" y2="610.2" stroke="#d2d2d2" stroke-width="0.8"/>
<line x1="478.3" y1="450.4" x2="478.3" y2="610.2" stroke="#d2d2d2" stroke-width="0.8"/>
<line x1="505.55" y1="450.4" x2="505.55" y2="610.2" stroke="#d2d2d2" stroke-width="0.8"/>
<line x1="304.2" y1="604.3" x2="531.8" y2="604.3" stroke="#d2d2d2" stroke-width="0.8"/>
<line x1="304.2" y1="569.55" x2="531.8" y2="569.55" stroke="#d2d2d2" stroke-width="0.8"/>
<line x1="304.2" y1="534.8" x2="531.8" y2="534.8" stroke="#d2d2d2" stroke-width="0.8"/>
<line x1="304.2" y1="500.05" x2="531.8" y2="500.05" stroke="#d2d2d2" stroke-width="0.8"/>
<line x1="304.2" y1="465.3" x2="531.8" y2="465.3" stroke="#d2d2d2" stroke-width="0.8"/>
<polyline points="314.8,456.61 325.7,563.99 336.6,587.97 347.5,596.31 358.4,599.43 369.3,600.13 380.2,600.48 391.1,600.48 402,602.04 412.9,602.04 423.8,602.91 434.7,603.08 445.6,602.56 456.5,602.39 467.4,601.69 478.3,601.52 489.2,600.82 500.1,601 511,601.69 521.9,601.87" fill="none" stroke="#3088cd" stroke-width="1.35" stroke-linejoin="round" stroke-linecap="round"/>
<polyline points="314.8,545.92 325.7,582.75 336.6,588.49 347.5,592.14 358.4,592.83 369.3,593.88 380.2,593.18 391.1,594.4 402,594.22 412.9,595.96 423.8,593.88 434.7,594.22 445.6,593.88 456.5,592.83 467.4,590.75 478.3,590.75 489.2,591.44 500.1,591.44 511,591.44 521.9,594.22" fill="none" stroke="#fa912c" stroke-width="1.35" stroke-linejoin="round" stroke-linecap="round"/>
<rect x="304.2" y="450.4" width="227.6" height="159.8" fill="none" stroke="#6e6e6e" stroke-width="0.9"/>
<line x1="314.8" y1="610.2" x2="314.8" y2="612.6" stroke="#6e6e6e" stroke-width="0.8"/>
<text x="314.8" y="620.5" class="t" font-size="6.4" fill="#2a2a2a" text-anchor="middle">0.0</text>
<line x1="342.05" y1="610.2" x2="342.05" y2="612.6" stroke="#6e6e6e" stroke-width="0.8"/>
<text x="342.05" y="620.5" class="t" font-size="6.4" fill="#2a2a2a" text-anchor="middle">2.5</text>
<line x1="369.3" y1="610.2" x2="369.3" y2="612.6" stroke="#6e6e6e" stroke-width="0.8"/>
<text x="369.3" y="620.5" class="t" font-size="6.4" fill="#2a2a2a" text-anchor="middle">5.0</text>
<line x1="396.55" y1="610.2" x2="396.55" y2="612.6" stroke="#6e6e6e" stroke-width="0.8"/>
<text x="396.55" y="620.5" class="t" font-size="6.4" fill="#2a2a2a" text-anchor="middle">7.5</text>
<line x1="423.8" y1="610.2" x2="423.8" y2="612.6" stroke="#6e6e6e" stroke-width="0.8"/>
<text x="423.8" y="620.5" class="t" font-size="6.4" fill="#2a2a2a" text-anchor="middle">10.0</text>
<line x1="451.05" y1="610.2" x2="451.05" y2="612.6" stroke="#6e6e6e" stroke-width="0.8"/>
<text x="451.05" y="620.5" class="t" font-size="6.4" fill="#2a2a2a" text-anchor="middle">12.5</text>
<line x1="478.3" y1="610.2" x2="478.3" y2="612.6" stroke="#6e6e6e" stroke-width="0.8"/>
<text x="478.3" y="620.5" class="t" font-size="6.4" fill="#2a2a2a" text-anchor="middle">15.0</text>
<line x1="505.55" y1="610.2" x2="505.55" y2="612.6" stroke="#6e6e6e" stroke-width="0.8"/>
<text x="505.55" y="620.5" class="t" font-size="6.4" fill="#2a2a2a" text-anchor="middle">17.5</text>
<line x1="301.8" y1="604.3" x2="304.2" y2="604.3" stroke="#6e6e6e" stroke-width="0.8"/>
<text x="299.8" y="606.6" class="t" font-size="6.4" fill="#2a2a2a" text-anchor="end">0</text>
<line x1="301.8" y1="569.55" x2="304.2" y2="569.55" stroke="#6e6e6e" stroke-width="0.8"/>
<text x="299.8" y="571.85" class="t" font-size="6.4" fill="#2a2a2a" text-anchor="end">1</text>
<line x1="301.8" y1="534.8" x2="304.2" y2="534.8" stroke="#6e6e6e" stroke-width="0.8"/>
<text x="299.8" y="537.1" class="t" font-size="6.4" fill="#2a2a2a" text-anchor="end">2</text>
<line x1="301.8" y1="500.05" x2="304.2" y2="500.05" stroke="#6e6e6e" stroke-width="0.8"/>
<text x="299.8" y="502.35" class="t" font-size="6.4" fill="#2a2a2a" text-anchor="end">3</text>
<line x1="301.8" y1="465.3" x2="304.2" y2="465.3" stroke="#6e6e6e" stroke-width="0.8"/>
<text x="299.8" y="467.6" class="t" font-size="6.4" fill="#2a2a2a" text-anchor="end">4</text>
<rect x="480" y="453" width="48.2" height="20" rx="1.2" fill="#ffffff" fill-opacity="0.85" stroke="#dadada" stroke-width="0.7"/>
<line x1="481.8" y1="457.7" x2="496" y2="457.7" stroke="#3088cd" stroke-width="1.25"/>
<text x="501" y="460.5" class="t" font-size="6.8" fill="#2a2a2a" textLength="11" lengthAdjust="spacingAndGlyphs">loss</text>
<line x1="481.8" y1="466.7" x2="496" y2="466.7" stroke="#fa912c" stroke-width="1.25"/>
<text x="501" y="469.5" class="t" font-size="6.8" fill="#2a2a2a" textLength="24" lengthAdjust="spacingAndGlyphs">val_loss</text>
<text x="305.5" y="443.6" class="t2" font-size="9.3" fill="#2a2a2a" textLength="223.4" lengthAdjust="spacingAndGlyphs">Evolution_loss_function-CNN_20_epochs:loss&amp;Val_loss</text>
<text x="407.9" y="632.6" class="t2" font-size="8.6" fill="#2a2a2a" textLength="28.8" lengthAdjust="spacingAndGlyphs">Epochs</text>
<text transform="translate(289.8,538) rotate(-90)" x="0" y="0" class="t2" font-size="8.6" fill="#2a2a2a" text-anchor="middle" textLength="17.5" lengthAdjust="spacingAndGlyphs">Loss</text>
<rect x="39.2" y="664.6" width="228.1" height="170.1" fill="#ffffff"/>
<line x1="49.9" y1="664.6" x2="49.9" y2="834.7" stroke="#d2d2d2" stroke-width="0.8"/>
<line x1="77.17" y1="664.6" x2="77.17" y2="834.7" stroke="#d2d2d2" stroke-width="0.8"/>
<line x1="104.45" y1="664.6" x2="104.45" y2="834.7" stroke="#d2d2d2" stroke-width="0.8"/>
<line x1="131.72" y1="664.6" x2="131.72" y2="834.7" stroke="#d2d2d2" stroke-width="0.8"/>
<line x1="159" y1="664.6" x2="159" y2="834.7" stroke="#d2d2d2" stroke-width="0.8"/>
<line x1="186.28" y1="664.6" x2="186.28" y2="834.7" stroke="#d2d2d2" stroke-width="0.8"/>
<line x1="213.55" y1="664.6" x2="213.55" y2="834.7" stroke="#d2d2d2" stroke-width="0.8"/>
<line x1="240.83" y1="664.6" x2="240.83" y2="834.7" stroke="#d2d2d2" stroke-width="0.8"/>
<line x1="39.2" y1="806.2" x2="267.3" y2="806.2" stroke="#d2d2d2" stroke-width="0.8"/>
<line x1="39.2" y1="771.95" x2="267.3" y2="771.95" stroke="#d2d2d2" stroke-width="0.8"/>
<line x1="39.2" y1="737.7" x2="267.3" y2="737.7" stroke="#d2d2d2" stroke-width="0.8"/>
<line x1="39.2" y1="703.45" x2="267.3" y2="703.45" stroke="#d2d2d2" stroke-width="0.8"/>
<line x1="39.2" y1="669.2" x2="267.3" y2="669.2" stroke="#d2d2d2" stroke-width="0.8"/>
<polyline points="49.9,827.61 60.81,773.49 71.72,720.75 82.63,699.68 93.54,689.41 104.45,682.9 115.36,679.65 126.27,677.93 137.18,674.51 148.09,673.31 159,672.28 169.91,672.45 180.82,671.77 191.73,672.97 202.64,672.45 213.55,671.77 224.46,673.31 235.37,672.28 246.28,671.94 257.19,671.77" fill="none" stroke="#3088cd" stroke-width="1.35" stroke-linejoin="round" stroke-linecap="round"/>
<polyline points="49.9,781.03 60.81,711.84 71.72,696.09 82.63,686.67 93.54,684.44 104.45,682.39 115.36,681.87 126.27,680.16 137.18,678.45 148.09,679.13 159,679.3 169.91,682.56 180.82,680.16 191.73,678.62 202.64,679.13 213.55,676.74 224.46,676.56 235.37,677.59 246.28,679.82 257.19,678.62" fill="none" stroke="#fa912c" stroke-width="1.35" stroke-linejoin="round" stroke-linecap="round"/>
<rect x="39.2" y="664.6" width="228.1" height="170.1" fill="none" stroke="#6e6e6e" stroke-width="0.9"/>
<line x1="49.9" y1="834.7" x2="49.9" y2="837.1" stroke="#6e6e6e" stroke-width="0.8"/>
<text x="49.9" y="845" class="t" font-size="6.4" fill="#2a2a2a" text-anchor="middle">0.0</text>
<line x1="77.17" y1="834.7" x2="77.17" y2="837.1" stroke="#6e6e6e" stroke-width="0.8"/>
<text x="77.17" y="845" class="t" font-size="6.4" fill="#2a2a2a" text-anchor="middle">2.5</text>
<line x1="104.45" y1="834.7" x2="104.45" y2="837.1" stroke="#6e6e6e" stroke-width="0.8"/>
<text x="104.45" y="845" class="t" font-size="6.4" fill="#2a2a2a" text-anchor="middle">5.0</text>
<line x1="131.72" y1="834.7" x2="131.72" y2="837.1" stroke="#6e6e6e" stroke-width="0.8"/>
<text x="131.72" y="845" class="t" font-size="6.4" fill="#2a2a2a" text-anchor="middle">7.5</text>
<line x1="159" y1="834.7" x2="159" y2="837.1" stroke="#6e6e6e" stroke-width="0.8"/>
<text x="159" y="845" class="t" font-size="6.4" fill="#2a2a2a" text-anchor="middle">10.0</text>
<line x1="186.28" y1="834.7" x2="186.28" y2="837.1" stroke="#6e6e6e" stroke-width="0.8"/>
<text x="186.28" y="845" class="t" font-size="6.4" fill="#2a2a2a" text-anchor="middle">12.5</text>
<line x1="213.55" y1="834.7" x2="213.55" y2="837.1" stroke="#6e6e6e" stroke-width="0.8"/>
<text x="213.55" y="845" class="t" font-size="6.4" fill="#2a2a2a" text-anchor="middle">15.0</text>
<line x1="240.83" y1="834.7" x2="240.83" y2="837.1" stroke="#6e6e6e" stroke-width="0.8"/>
<text x="240.83" y="845" class="t" font-size="6.4" fill="#2a2a2a" text-anchor="middle">17.5</text>
<line x1="36.8" y1="806.2" x2="39.2" y2="806.2" stroke="#6e6e6e" stroke-width="0.8"/>
<text x="34.5" y="808.5" class="t" font-size="6.4" fill="#2a2a2a" text-anchor="end">0.2</text>
<line x1="36.8" y1="771.95" x2="39.2" y2="771.95" stroke="#6e6e6e" stroke-width="0.8"/>
<text x="34.5" y="774.25" class="t" font-size="6.4" fill="#2a2a2a" text-anchor="end">0.4</text>
<line x1="36.8" y1="737.7" x2="39.2" y2="737.7" stroke="#6e6e6e" stroke-width="0.8"/>
<text x="34.5" y="740" class="t" font-size="6.4" fill="#2a2a2a" text-anchor="end">0.6</text>
<line x1="36.8" y1="703.45" x2="39.2" y2="703.45" stroke="#6e6e6e" stroke-width="0.8"/>
<text x="34.5" y="705.75" class="t" font-size="6.4" fill="#2a2a2a" text-anchor="end">0.8</text>
<line x1="36.8" y1="669.2" x2="39.2" y2="669.2" stroke="#6e6e6e" stroke-width="0.8"/>
<text x="34.5" y="671.5" class="t" font-size="6.4" fill="#2a2a2a" text-anchor="end">1.0</text>
<rect x="199.9" y="810.1" width="65" height="21.8" rx="1.2" fill="#ffffff" fill-opacity="0.85" stroke="#dadada" stroke-width="0.7"/>
<line x1="201.6" y1="815.5" x2="215.9" y2="815.5" stroke="#3088cd" stroke-width="1.25"/>
<text x="220.8" y="818.3" class="t" font-size="6.8" fill="#2a2a2a" textLength="28.2" lengthAdjust="spacingAndGlyphs">accuracy</text>
<line x1="201.6" y1="825.7" x2="215.9" y2="825.7" stroke="#fa912c" stroke-width="1.25"/>
<text x="220.8" y="828.5" class="t" font-size="6.8" fill="#2a2a2a" textLength="41.2" lengthAdjust="spacingAndGlyphs">val_accuracy</text>
<text x="16" y="658.2" class="t2" font-size="9.3" fill="#2a2a2a" textLength="267.6" lengthAdjust="spacingAndGlyphs">Model_performance_evolution-CNN_20_epochs:accuracy&amp;Val_acc</text>
<text x="144" y="857.5" class="t2" font-size="8.6" fill="#2a2a2a" textLength="28.7" lengthAdjust="spacingAndGlyphs">Epochs</text>
<text transform="translate(18.5,746.9) rotate(-90)" x="0" y="0" class="t2" font-size="8.6" fill="#2a2a2a" text-anchor="middle" textLength="37.8" lengthAdjust="spacingAndGlyphs">Accuracy</text>
<rect x="308.6" y="663.5" width="229.9" height="170.9" fill="#ffffff"/>
<line x1="319.2" y1="663.5" x2="319.2" y2="834.4" stroke="#d2d2d2" stroke-width="0.8"/>
<line x1="346.75" y1="663.5" x2="346.75" y2="834.4" stroke="#d2d2d2" stroke-width="0.8"/>
<line x1="374.3" y1="663.5" x2="374.3" y2="834.4" stroke="#d2d2d2" stroke-width="0.8"/>
<line x1="401.85" y1="663.5" x2="401.85" y2="834.4" stroke="#d2d2d2" stroke-width="0.8"/>
<line x1="429.4" y1="663.5" x2="429.4" y2="834.4" stroke="#d2d2d2" stroke-width="0.8"/>
<line x1="456.95" y1="663.5" x2="456.95" y2="834.4" stroke="#d2d2d2" stroke-width="0.8"/>
<line x1="484.5" y1="663.5" x2="484.5" y2="834.4" stroke="#d2d2d2" stroke-width="0.8"/>
<line x1="512.05" y1="663.5" x2="512.05" y2="834.4" stroke="#d2d2d2" stroke-width="0.8"/>
<line x1="308.6" y1="828.1" x2="538.5" y2="828.1" stroke="#d2d2d2" stroke-width="0.8"/>
<line x1="308.6" y1="800.1" x2="538.5" y2="800.1" stroke="#d2d2d2" stroke-width="0.8"/>
<line x1="308.6" y1="772.1" x2="538.5" y2="772.1" stroke="#d2d2d2" stroke-width="0.8"/>
<line x1="308.6" y1="744.1" x2="538.5" y2="744.1" stroke="#d2d2d2" stroke-width="0.8"/>
<line x1="308.6" y1="716.1" x2="538.5" y2="716.1" stroke="#d2d2d2" stroke-width="0.8"/>
<line x1="308.6" y1="688.1" x2="538.5" y2="688.1" stroke="#d2d2d2" stroke-width="0.8"/>
<polyline points="319.2,670.46 330.22,760.9 341.24,796.46 352.26,811.02 363.28,816.9 374.3,820.54 385.32,822.78 396.34,824.18 407.36,825.02 418.38,825.02 429.4,825.72 440.42,825.44 451.44,826.14 462.46,826 473.48,825.72 484.5,826.14 495.52,825.72 506.54,826.14 517.56,826.14 528.58,826.42" fill="none" stroke="#3088cd" stroke-width="1.35" stroke-linejoin="round" stroke-linecap="round"/>
<polyline points="319.2,744.1 330.22,798 341.24,813.82 352.26,818.3 363.28,820.54 374.3,821.94 385.32,821.94 396.34,820.82 407.36,821.94 418.38,822.22 429.4,822.5 440.42,820.4 451.44,821.94 462.46,821.66 473.48,820.54 484.5,823.2 495.52,823.34 506.54,821.94 517.56,820.4 528.58,822.22" fill="none" stroke="#fa912c" stroke-width="1.35" stroke-linejoin="round" stroke-linecap="round"/>
<rect x="308.6" y="663.5" width="229.9" height="170.9" fill="none" stroke="#6e6e6e" stroke-width="0.9"/>
<line x1="319.2" y1="834.4" x2="319.2" y2="836.8" stroke="#6e6e6e" stroke-width="0.8"/>
<text x="319.2" y="845" class="t" font-size="6.4" fill="#2a2a2a" text-anchor="middle">0.0</text>
<line x1="346.75" y1="834.4" x2="346.75" y2="836.8" stroke="#6e6e6e" stroke-width="0.8"/>
<text x="346.75" y="845" class="t" font-size="6.4" fill="#2a2a2a" text-anchor="middle">2.5</text>
<line x1="374.3" y1="834.4" x2="374.3" y2="836.8" stroke="#6e6e6e" stroke-width="0.8"/>
<text x="374.3" y="845" class="t" font-size="6.4" fill="#2a2a2a" text-anchor="middle">5.0</text>
<line x1="401.85" y1="834.4" x2="401.85" y2="836.8" stroke="#6e6e6e" stroke-width="0.8"/>
<text x="401.85" y="845" class="t" font-size="6.4" fill="#2a2a2a" text-anchor="middle">7.5</text>
<line x1="429.4" y1="834.4" x2="429.4" y2="836.8" stroke="#6e6e6e" stroke-width="0.8"/>
<text x="429.4" y="845" class="t" font-size="6.4" fill="#2a2a2a" text-anchor="middle">10.0</text>
<line x1="456.95" y1="834.4" x2="456.95" y2="836.8" stroke="#6e6e6e" stroke-width="0.8"/>
<text x="456.95" y="845" class="t" font-size="6.4" fill="#2a2a2a" text-anchor="middle">12.5</text>
<line x1="484.5" y1="834.4" x2="484.5" y2="836.8" stroke="#6e6e6e" stroke-width="0.8"/>
<text x="484.5" y="845" class="t" font-size="6.4" fill="#2a2a2a" text-anchor="middle">15.0</text>
<line x1="512.05" y1="834.4" x2="512.05" y2="836.8" stroke="#6e6e6e" stroke-width="0.8"/>
<text x="512.05" y="845" class="t" font-size="6.4" fill="#2a2a2a" text-anchor="middle">17.5</text>
<line x1="306.2" y1="828.1" x2="308.6" y2="828.1" stroke="#6e6e6e" stroke-width="0.8"/>
<text x="303.7" y="830.4" class="t" font-size="6.4" fill="#2a2a2a" text-anchor="end">0</text>
<line x1="306.2" y1="800.1" x2="308.6" y2="800.1" stroke="#6e6e6e" stroke-width="0.8"/>
<text x="303.7" y="802.4" class="t" font-size="6.4" fill="#2a2a2a" text-anchor="end">1</text>
<line x1="306.2" y1="772.1" x2="308.6" y2="772.1" stroke="#6e6e6e" stroke-width="0.8"/>
<text x="303.7" y="774.4" class="t" font-size="6.4" fill="#2a2a2a" text-anchor="end">2</text>
<line x1="306.2" y1="744.1" x2="308.6" y2="744.1" stroke="#6e6e6e" stroke-width="0.8"/>
<text x="303.7" y="746.4" class="t" font-size="6.4" fill="#2a2a2a" text-anchor="end">3</text>
<line x1="306.2" y1="716.1" x2="308.6" y2="716.1" stroke="#6e6e6e" stroke-width="0.8"/>
<text x="303.7" y="718.4" class="t" font-size="6.4" fill="#2a2a2a" text-anchor="end">4</text>
<line x1="306.2" y1="688.1" x2="308.6" y2="688.1" stroke="#6e6e6e" stroke-width="0.8"/>
<text x="303.7" y="690.4" class="t" font-size="6.4" fill="#2a2a2a" text-anchor="end">5</text>
<rect x="487.5" y="665.9" width="48.7" height="21.5" rx="1.2" fill="#ffffff" fill-opacity="0.85" stroke="#dadada" stroke-width="0.7"/>
<line x1="488.9" y1="671.5" x2="503.4" y2="671.5" stroke="#3088cd" stroke-width="1.25"/>
<text x="508.5" y="674.3" class="t" font-size="6.8" fill="#2a2a2a" textLength="11" lengthAdjust="spacingAndGlyphs">loss</text>
<line x1="488.9" y1="681.5" x2="503.4" y2="681.5" stroke="#fa912c" stroke-width="1.25"/>
<text x="508.5" y="684.3" class="t" font-size="6.8" fill="#2a2a2a" textLength="24.5" lengthAdjust="spacingAndGlyphs">val_loss</text>
<text x="311" y="656.7" class="t2" font-size="9.3" fill="#2a2a2a" textLength="223" lengthAdjust="spacingAndGlyphs">Evolution_loss_function-CNN_20_epochs:loss&amp;Val_loss</text>
<text x="414.2" y="857.6" class="t2" font-size="8.6" fill="#2a2a2a" textLength="28.6" lengthAdjust="spacingAndGlyphs">Epochs</text>
<text transform="translate(293.2,746) rotate(-90)" x="0" y="0" class="t2" font-size="8.6" fill="#2a2a2a" text-anchor="middle" textLength="17.8" lengthAdjust="spacingAndGlyphs">Loss</text>
<text x="17.9" y="219.4" class="t2" font-size="9" fill="#2a2a2a" textLength="45.8" lengthAdjust="spacingAndGlyphs">Batch size 4</text>
<text x="17" y="429" class="t2" font-size="9" fill="#2a2a2a" textLength="46.5" lengthAdjust="spacingAndGlyphs">Batch size 8</text>
<text x="15.7" y="635.2" class="t2" font-size="9" fill="#2a2a2a" textLength="53.9" lengthAdjust="spacingAndGlyphs">Batch size 12</text>
<text x="22.8" y="859.3" class="t2" font-size="9" fill="#2a2a2a" textLength="54.1" lengthAdjust="spacingAndGlyphs">Batch size 16</text>
</svg>
</body></html>
